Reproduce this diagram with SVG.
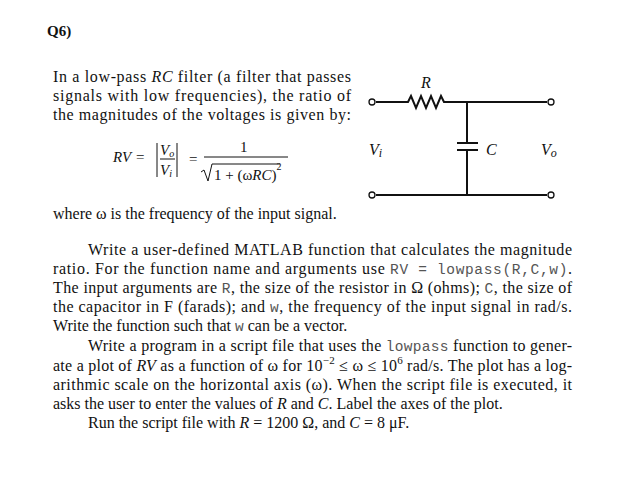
<svg xmlns="http://www.w3.org/2000/svg" width="621" height="483" viewBox="0 0 621 483">
<style>
text{font-family:"Liberation Serif",serif;font-size:16px;fill:#111}
.m{font-family:"Liberation Mono",monospace;font-size:14.5px;fill:#555}
.i{font-style:italic}
.w{stroke:#111;stroke-width:2;fill:none}
.t{fill:#fff;stroke:#111;stroke-width:1.3}
.l{stroke:#111;stroke-width:1;fill:none}
</style>
<rect width="621" height="483" fill="#fff"/>
<text x="47" y="36" font-weight="bold" style="font-size:15px">Q6)</text>
<text x="53" y="82" textLength="298" lengthAdjust="spacing">In a low-pass <tspan class="i">RC</tspan> filter (a filter that passes</text>
<text x="53" y="101" textLength="298" lengthAdjust="spacing">signals with low frequencies), the ratio of</text>
<text x="53" y="120" textLength="298" lengthAdjust="spacing">the magnitudes of the voltages is given by:</text>
<g id="equation">
<text x="113" y="162" class="i" style="font-size:15px">RV</text><text x="136" y="162" style="font-size:15px">=</text>
<path class="l" d="M157 143V177M177 143V177M160 159H175"/>
<text x="160" y="155" class="i" style="font-size:15px">V<tspan style="font-size:10px" dy="2">o</tspan></text>
<text x="160" y="175" class="i" style="font-size:15px">V<tspan style="font-size:10px" dy="2">i</tspan></text>
<text x="189" y="164" style="font-size:15px">=</text>
<text x="240" y="152" style="font-size:15px">1</text>
<path class="l" d="M204 157H288"/>
<path class="l" d="M201 172L204 170L208 181L212 164H280"/>
<text x="214" y="180" style="font-size:15px">1 + (ω<tspan class="i">RC</tspan>)<tspan style="font-size:10px" dy="-10">2</tspan></text>
</g>
<g id="circuit">
<path class="w" d="M376 102H408l3-6 5 12 5-12 5 12 5-12 5 12 5-12 3 6H547M467 102V143M457 143H478M457 150H478M467 150V195M376 195H547"/>
<circle class="t" cx="372" cy="102" r="3"/><circle class="t" cx="551" cy="102" r="3"/>
<circle class="t" cx="372" cy="195" r="3"/><circle class="t" cx="551" cy="195" r="3"/>
<text x="421" y="88" class="i">R</text>
<text x="369" y="155" class="i">V<tspan style="font-size:12px" dy="2">i</tspan></text>
<text x="486" y="155" class="i">C</text>
<text x="541" y="155" class="i">V<tspan style="font-size:12px" dy="2">o</tspan></text>
</g>
<text x="53" y="219">where ω is the frequency of the input signal.</text>
<text x="88" y="255" textLength="484" lengthAdjust="spacing">Write a user-defined MATLAB function that calculates the magnitude</text>
<text x="53" y="274" textLength="519" lengthAdjust="spacing">ratio. For the function name and arguments use <tspan class="m">RV = lowpass(R,C,w)</tspan>.</text>
<text x="53" y="293" textLength="519" lengthAdjust="spacing">The input arguments are <tspan class="m">R</tspan>, the size of the resistor in Ω (ohms); <tspan class="m">C</tspan>, the size of</text>
<text x="53" y="312" textLength="519" lengthAdjust="spacing">the capacitor in F (farads); and <tspan class="m">w</tspan>, the frequency of the input signal in rad/s.</text>
<text x="53" y="331">Write the function such that <tspan class="m">w</tspan> can be a vector.</text>
<text x="88" y="351" textLength="484" lengthAdjust="spacing">Write a program in a script file that uses the <tspan class="m">lowpass</tspan> function to gener-</text>
<text x="53" y="371" textLength="519" lengthAdjust="spacing">ate a plot of <tspan class="i">RV</tspan> as a function of ω for 10<tspan style="font-size:11px" dy="-7">−2</tspan><tspan dy="7"> ≤ ω ≤ 10</tspan><tspan style="font-size:11px" dy="-7">6</tspan><tspan dy="7"> rad/s. The plot has a log-</tspan></text>
<text x="53" y="390" textLength="519" lengthAdjust="spacing">arithmic scale on the horizontal axis (ω). When the script file is executed, it</text>
<text x="53" y="409">asks the user to enter the values of <tspan class="i">R</tspan> and <tspan class="i">C</tspan>. Label the axes of the plot.</text>
<text x="88" y="428">Run the script file with <tspan class="i">R</tspan> = 1200 Ω, and <tspan class="i">C</tspan> = 8 μF.</text>
</svg>
